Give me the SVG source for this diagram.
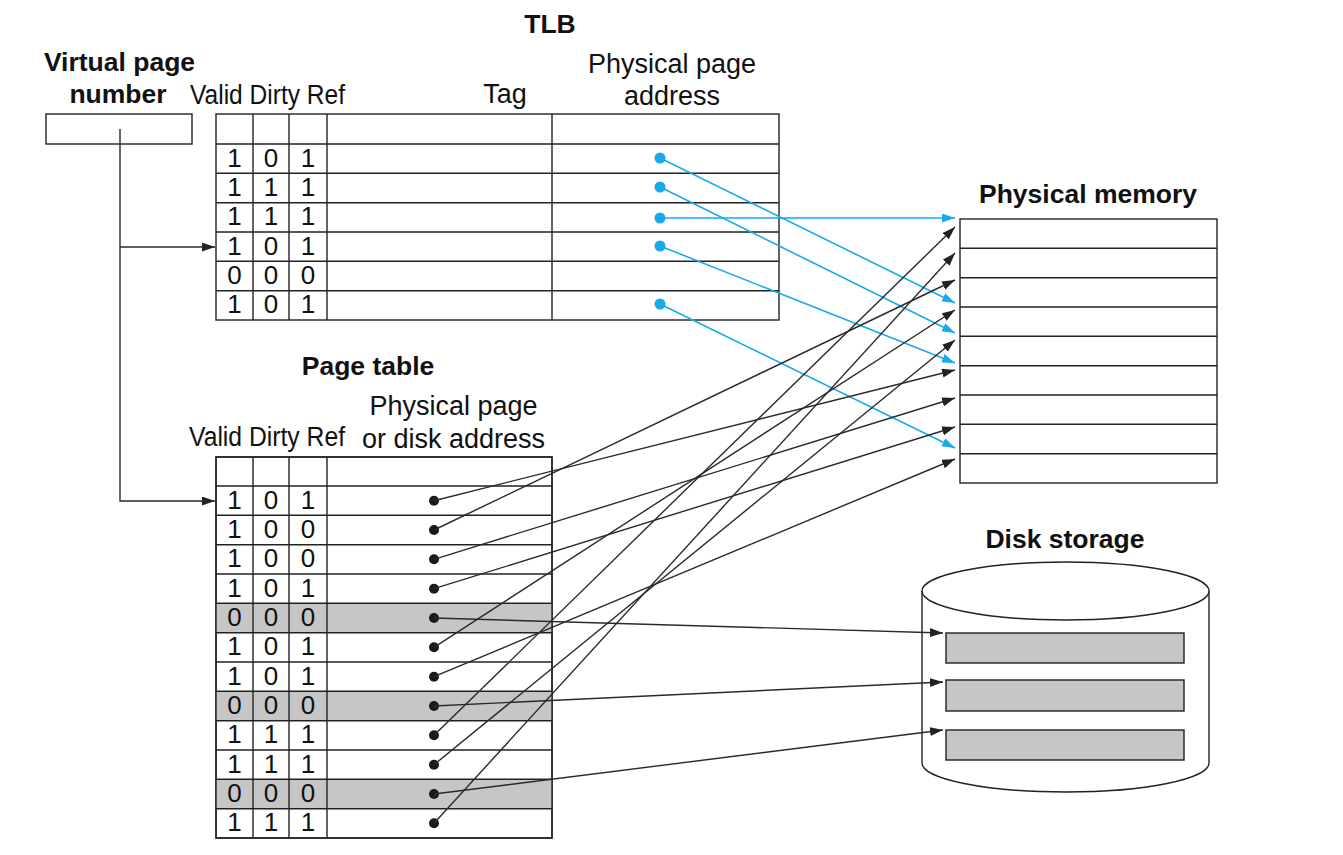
<svg xmlns="http://www.w3.org/2000/svg" width="1343" height="855" viewBox="0 0 1343 855">
<style>
text{font-family:"Liberation Sans",Arial,Helvetica,sans-serif;fill:#111}
.b{font-weight:bold;font-size:26.5px;text-anchor:middle}
.r{font-size:27px;text-anchor:middle}
.h{font-size:27px}
.d{font-size:26px;text-anchor:middle}
.grid{fill:none;stroke:#222;stroke-width:1.4}
.box{fill:#fff;stroke:#222;stroke-width:1.4}
.gray{fill:#c6c6c6;stroke:none}
.slot{fill:#c6c6c6;stroke:#222;stroke-width:1.4}
.k{stroke:#2a2a2a;stroke-width:1.4;fill:none;marker-end:url(#ak)}
.bl{stroke:#1aa9ea;stroke-width:1.6;fill:none;marker-end:url(#ab)}
.dot{fill:#1a1a1a}
.bdot{fill:#1aa9ea}
</style>
<defs>
<marker id="ak" markerUnits="userSpaceOnUse" markerWidth="14" markerHeight="10" refX="13" refY="4.5" orient="auto"><path d="M0,0 L13,4.5 L0,9 z" fill="#222"/></marker>
<marker id="ab" markerUnits="userSpaceOnUse" markerWidth="14" markerHeight="10" refX="13" refY="4.5" orient="auto"><path d="M0,0 L13,4.5 L0,9 z" fill="#1aa9ea"/></marker>
</defs>
<rect width="1343" height="855" fill="#fff"/>

<g id="vpn">
<text class="b" x="119.5" y="71">Virtual page</text>
<text class="b" x="118" y="103">number</text>
<rect class="box" x="46" y="114" width="146" height="30"/>
</g>

<g id="tlb">
<text class="b" x="550" y="33">TLB</text>
<text class="h" x="190" y="104" textLength="155" lengthAdjust="spacingAndGlyphs">Valid Dirty Ref</text>
<text class="r" x="505" y="103">Tag</text>
<text class="r" x="672" y="73">Physical page</text>
<text class="r" x="672" y="105">address</text>
<rect class="box" x="216" y="114" width="563" height="206"/>
<path class="grid" d="M253,114V320M289,114V320M327,114V320M552,114V320M216,144H779M216,173.3H779M216,202.7H779M216,232H779M216,261.3H779M216,290.7H779"/>
<g class="dg">
<text class="d" x="234.5" y="166.7">1</text><text class="d" x="271" y="166.7">0</text><text class="d" x="308" y="166.7">1</text>
<text class="d" x="234.5" y="196">1</text><text class="d" x="271" y="196">1</text><text class="d" x="308" y="196">1</text>
<text class="d" x="234.5" y="225.3">1</text><text class="d" x="271" y="225.3">1</text><text class="d" x="308" y="225.3">1</text>
<text class="d" x="234.5" y="254.7">1</text><text class="d" x="271" y="254.7">0</text><text class="d" x="308" y="254.7">1</text>
<text class="d" x="234.5" y="284">0</text><text class="d" x="271" y="284">0</text><text class="d" x="308" y="284">0</text>
<text class="d" x="234.5" y="313.3">1</text><text class="d" x="271" y="313.3">0</text><text class="d" x="308" y="313.3">1</text>
</g>
<circle class="bdot" cx="660" cy="158" r="5.5"/>
<circle class="bdot" cx="660" cy="187" r="5.5"/>
<circle class="bdot" cx="660" cy="218" r="5.5"/>
<circle class="bdot" cx="660" cy="246" r="5.5"/>
<circle class="bdot" cx="660" cy="304" r="5.5"/>
</g>

<g id="pagetable">
<text class="b" x="368" y="375">Page table</text>
<text class="r" x="453.5" y="415">Physical page</text>
<text class="r" x="453.5" y="448">or disk address</text>
<text class="h" x="189" y="446" textLength="156" lengthAdjust="spacingAndGlyphs">Valid Dirty Ref</text>
<rect class="box" x="216" y="457" width="336" height="381"/>
<rect class="gray" x="216" y="603.3" width="336" height="29.3"/>
<rect class="gray" x="216" y="691.3" width="336" height="29.3"/>
<rect class="gray" x="216" y="779.3" width="336" height="29.3"/>
<path class="grid" d="M216,457H552V838H216Z M253,457V838M289,457V838M327,457V838M216,486H552M216,515.3H552M216,544.7H552M216,574H552M216,603.3H552M216,632.7H552M216,662H552M216,691.3H552M216,720.7H552M216,750H552M216,779.3H552M216,808.7H552"/>
<text class="d" x="234.5" y="508.7">1</text><text class="d" x="271" y="508.7">0</text><text class="d" x="308" y="508.7">1</text>
<text class="d" x="234.5" y="538">1</text><text class="d" x="271" y="538">0</text><text class="d" x="308" y="538">0</text>
<text class="d" x="234.5" y="567.3">1</text><text class="d" x="271" y="567.3">0</text><text class="d" x="308" y="567.3">0</text>
<text class="d" x="234.5" y="596.7">1</text><text class="d" x="271" y="596.7">0</text><text class="d" x="308" y="596.7">1</text>
<text class="d" x="234.5" y="626">0</text><text class="d" x="271" y="626">0</text><text class="d" x="308" y="626">0</text>
<text class="d" x="234.5" y="655.3">1</text><text class="d" x="271" y="655.3">0</text><text class="d" x="308" y="655.3">1</text>
<text class="d" x="234.5" y="684.7">1</text><text class="d" x="271" y="684.7">0</text><text class="d" x="308" y="684.7">1</text>
<text class="d" x="234.5" y="714">0</text><text class="d" x="271" y="714">0</text><text class="d" x="308" y="714">0</text>
<text class="d" x="234.5" y="743.3">1</text><text class="d" x="271" y="743.3">1</text><text class="d" x="308" y="743.3">1</text>
<text class="d" x="234.5" y="772.7">1</text><text class="d" x="271" y="772.7">1</text><text class="d" x="308" y="772.7">1</text>
<text class="d" x="234.5" y="802">0</text><text class="d" x="271" y="802">0</text><text class="d" x="308" y="802">0</text>
<text class="d" x="234.5" y="831.3">1</text><text class="d" x="271" y="831.3">1</text><text class="d" x="308" y="831.3">1</text>
<circle class="dot" cx="434" cy="500.7" r="5"/>
<circle class="dot" cx="434" cy="530" r="5"/>
<circle class="dot" cx="434" cy="559.3" r="5"/>
<circle class="dot" cx="434" cy="588.7" r="5"/>
<circle class="dot" cx="434" cy="618" r="5"/>
<circle class="dot" cx="434" cy="647.3" r="5"/>
<circle class="dot" cx="434" cy="676.7" r="5"/>
<circle class="dot" cx="434" cy="706" r="5"/>
<circle class="dot" cx="434" cy="735.3" r="5"/>
<circle class="dot" cx="434" cy="764.7" r="5"/>
<circle class="dot" cx="434" cy="794" r="5"/>
<circle class="dot" cx="434" cy="823.3" r="5"/>
</g>

<g id="physmem">
<text class="b" x="1088" y="203">Physical memory</text>
<rect class="box" x="960" y="219" width="257" height="264"/>
<path class="grid" d="M960,248.3H1217M960,277.7H1217M960,307H1217M960,336.3H1217M960,365.7H1217M960,395H1217M960,424.3H1217M960,453.7H1217"/>
</g>

<g id="disk">
<text class="b" x="1065" y="548">Disk storage</text>
<path class="box" d="M922,591 V763 A143.5,29 0 0 0 1209,763 V591"/>
<ellipse class="box" cx="1065.5" cy="591" rx="143.5" ry="29"/>
<rect class="slot" x="946" y="633" width="238" height="30"/>
<rect class="slot" x="946" y="680" width="238" height="31"/>
<rect class="slot" x="946" y="730" width="238" height="30"/>
</g>

<g id="connectors">
<path class="k" d="M120,129 V501 H215"/>
<path class="k" d="M120,247 H215"/>
<path class="bl" d="M660,158 L955,303"/>
<path class="bl" d="M660,187 L955,333"/>
<path class="bl" d="M660,218 L955,218"/>
<path class="bl" d="M660,246 L955,363"/>
<path class="bl" d="M660,304 L955,448"/>
<path class="k" d="M434,500.7 L955,370"/>
<path class="k" d="M434,530 L955,280"/>
<path class="k" d="M434,559.3 L955,398"/>
<path class="k" d="M434,588.7 L955,427"/>
<path class="k" d="M434,647.3 L955,310"/>
<path class="k" d="M434,676.7 L955,459"/>
<path class="k" d="M434,735.3 L955,227"/>
<path class="k" d="M434,764.7 L955,340"/>
<path class="k" d="M434,823.3 L955,253"/>
<path class="k" d="M434,618 L943,633"/>
<path class="k" d="M434,706 L943,682"/>
<path class="k" d="M434,794 L943,730"/>
</g>
</svg>
